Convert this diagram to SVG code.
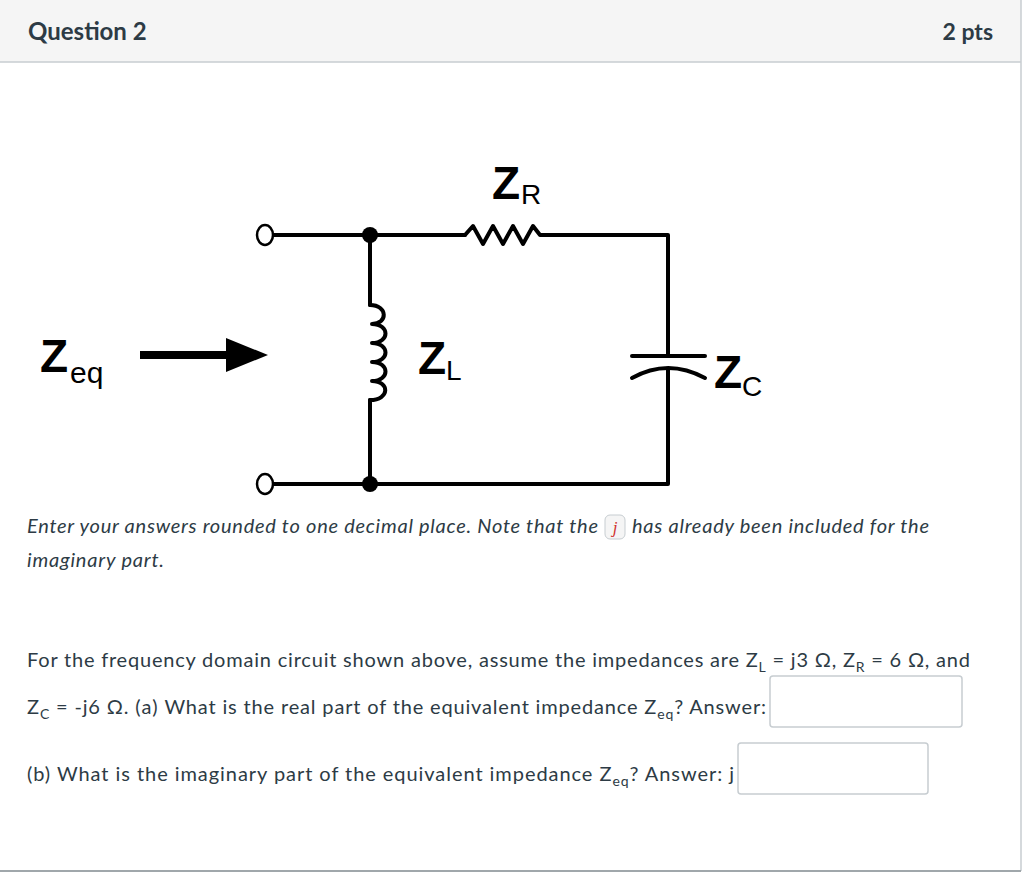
<svg xmlns="http://www.w3.org/2000/svg" width="1024" height="883" viewBox="0 0 1024 883">
<style>
.t{font-family:Lato,"Liberation Sans",sans-serif;fill:#2d3b45}
.w{stroke:#000;stroke-width:4;fill:none;stroke-linecap:round;stroke-linejoin:round}
.lb{font-family:"Liberation Sans",Arial,sans-serif;fill:#000}
.box{fill:#fff;stroke:#c7cdd1;stroke-width:1.5}
</style>
<rect width="1024" height="883" fill="#fff"/>
<rect x="0" y="0" width="1021" height="62" fill="#f5f5f5"/>
<line x1="0" y1="62" x2="1021" y2="62" stroke="#c7cdd1" stroke-width="1.5"/>
<line x1="1021" y1="0" x2="1021" y2="871" stroke="#c7cdd1" stroke-width="1.5"/>
<line x1="0" y1="871" x2="1021" y2="871" stroke="#a0a7ab" stroke-width="2"/>
<text class="t" x="28" y="40" font-size="24" font-weight="bold">Question 2</text>
<text class="t" x="993" y="40" font-size="23" font-weight="bold" text-anchor="end">2 pts</text>
<g id="connectors">
<path class="w" d="M272 235 H465 M565 235 H668 V356 M668 370 V484 H272 M370 235 V305 M370 400 V484"/>
<path class="w" d="M465 235 l8 -9 l10 18 l10 -18 l10 18 l10 -18 l10 18 l10 -18 l7 9 H565"/>
<path class="w" d="M370 305 c18 0 18 19 2 19 c18 0 18 19 0 19 c18 0 18 19 0 19 c18 0 18 19 0 19 c18 0 18 19 -2 19"/>
<line class="w" x1="632" y1="356" x2="705" y2="356"/>
<path class="w" d="M632 378 Q668 358 705 378"/>
<path d="M140 351 H228 V359 H140 Z M226 338 L268 355 L226 372 Z" fill="#000"/>
</g>
<g id="terminals">
<ellipse cx="265" cy="235" rx="8" ry="10" fill="#fff" stroke="#000" stroke-width="2.5"/>
<ellipse cx="265" cy="484" rx="8" ry="10" fill="#fff" stroke="#000" stroke-width="2.5"/>
<circle cx="370" cy="235" r="8" fill="#000"/>
<circle cx="370" cy="484" r="8" fill="#000"/>
</g>
<g id="labels">
<text class="lb" x="492" y="199" font-size="46" font-weight="bold">Z</text><text class="lb" x="521" y="204" font-size="28">R</text>
<text class="lb" x="40" y="372" font-size="46" font-weight="bold">Z</text><text class="lb" x="70" y="383" font-size="30">eq</text>
<text class="lb" x="418" y="374" font-size="46" font-weight="bold">Z</text><text class="lb" x="446" y="380" font-size="28">L</text>
<text class="lb" x="714" y="388" font-size="46" font-weight="bold">Z</text><text class="lb" x="742" y="396" font-size="28">C</text>
</g>
<g id="text">
<text class="t" x="27" y="533" font-size="20" font-style="italic" textLength="571">Enter your answers rounded to one decimal place. Note that the</text>
<rect x="605" y="515" width="20" height="24" rx="5" fill="#f5f5f5" stroke="#c7cdd1"/>
<text x="615" y="533" font-size="17" font-style="italic" font-family="Liberation Serif,serif" fill="#d0312d" text-anchor="middle">j</text>
<text class="t" x="632" y="533" font-size="20" font-style="italic" textLength="297">has already been included for the</text>
<text class="t" x="27" y="567" font-size="20" font-style="italic" textLength="137">imaginary part.</text>
<text class="t" x="27" y="667" font-size="20" textLength="943">For the frequency domain circuit shown above, assume the impedances are Z<tspan font-size="14" dy="5">L</tspan><tspan dy="-5"> = j3 Ω, Z</tspan><tspan font-size="14" dy="5">R</tspan><tspan dy="-5"> = 6 Ω, and</tspan></text>
<text class="t" x="27" y="714" font-size="20" textLength="739">Z<tspan font-size="14" dy="5">C</tspan><tspan dy="-5"> = -j6 Ω. (a) What is the real part of the equivalent impedance Z</tspan><tspan font-size="14" dy="5">eq</tspan><tspan dy="-5">? Answer:</tspan></text>
<text class="t" x="27" y="781" font-size="20" textLength="707">(b) What is the imaginary part of the equivalent impedance Z<tspan font-size="14" dy="5">eq</tspan><tspan dy="-5">? Answer: j</tspan></text>
<rect class="box" x="770" y="676" width="192" height="51" rx="3"/>
<rect class="box" x="738" y="743" width="190" height="51" rx="3"/>
</g>
</svg>
